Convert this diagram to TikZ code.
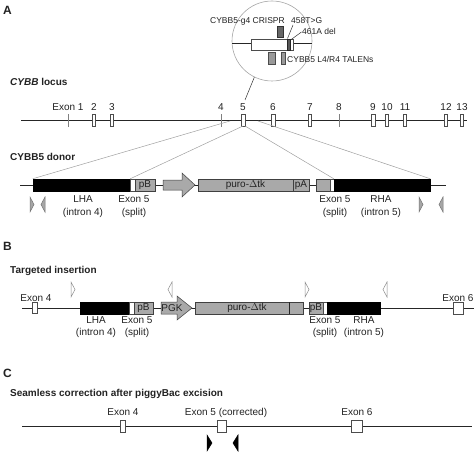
\documentclass[tikz,border=0pt]{standalone}
\usepackage{fontspec}
\setmainfont{Liberation Sans}
\definecolor{boxg}{HTML}{A9A9A9}
\definecolor{txt}{HTML}{222222}
\definecolor{zoomc}{HTML}{A0A0A0}
\tikzset{
  lbl/.style={font=\fontsize{10}{11}\selectfont, text=txt, inner sep=0pt, anchor=base},
  sml/.style={font=\fontsize{8.5}{10}\selectfont, text=txt, inner sep=0pt, anchor=base},
  head/.style={font=\bfseries\fontsize{10}{11}\selectfont, text=txt, inner sep=0pt, anchor=base west},
  panel/.style={font=\bfseries\fontsize{12}{13}\selectfont, text=txt, inner sep=0pt, anchor=base west},
  bb/.style={line width=1pt, draw=black!85},
  zl/.style={draw=zoomc, line width=0.5pt},
  blk/.style={rectangle, fill=black, draw=black, line width=0.5pt, inner sep=0pt},
  gbx/.style={rectangle, fill=boxg, draw=black!75, line width=0.5pt, inner sep=0pt, font=\fontsize{10}{11}\selectfont, text=txt},
  wbx/.style={rectangle, fill=white, draw=black!70, line width=0.5pt, inner sep=0pt},
  tick/.style={rectangle, fill=black!45, draw=black!50, line width=0.3pt, inner sep=0pt, minimum width=0.6, minimum height=12},
  gtri/.style={fill=black!35, draw=black!55, line width=0.5pt},
  otri/.style={fill=white, draw=black!45, line width=0.5pt},
  btri/.style={fill=black, draw=black, line width=0.5pt},
  garrow/.style={fill=boxg, draw=black!75, line width=0.5pt}
}
\begin{document}
\begin{tikzpicture}[x=1pt,y=-1pt]
\useasboundingbox (0,0) rectangle (474,452);

% ================= Panel A =================
\node[panel] (labA) at (3,15) {A};

% magnifier circle
\node[circle, draw=black!35, line width=0.6pt, minimum size=80, inner sep=0pt] (mag) at (272,41) {};
\coordinate (mL) at (232,44);
\coordinate (mR) at (312,44);
\draw[bb] (mL) -- (mR);
\node[wbx, minimum width=42, minimum height=11] (ex5z) at (272,44.5) {};
\node[rectangle, fill=black!65, draw=black!85, line width=0.4pt, minimum width=3, minimum height=11, inner sep=0pt] (mut) at (288.5,44.5) {};
\node[rectangle, fill=black!60, draw=black!80, line width=0.5pt, minimum width=6, minimum height=11, inner sep=0pt] (crispr) at (280,31.5) {};
\node[rectangle, fill=black!40, draw=black!70, line width=0.5pt, minimum width=7, minimum height=12, inner sep=0pt] (tal1) at (271.5,58) {};
\node[rectangle, fill=black!40, draw=black!70, line width=0.5pt, minimum width=4, minimum height=12, inner sep=0pt] (tal2) at (283,58) {};
\node[sml, anchor=base east] (lcr) at (285,23.5) {CYBB5-g4 CRISPR};
\node[sml, anchor=base west] (l458) at (291,23.5) {458T>G};
\node[sml, anchor=base west] (l461) at (302,35) {461A del};
\node[sml, anchor=base west] (ltal) at (287,62.5) {CYBB5 L4/R4 TALENs};
\coordinate (p458) at (287.5,38.5);
\coordinate (p461) at (290.5,40);
\draw[black!80, line width=0.5pt] (293,25) -- (p458);
\draw[black!80, line width=0.5pt] (301.5,32) -- (p461);

% locus
\node[head] (hloc) at (10,85.5) {\textit{CYBB} locus};
\coordinate (locL) at (21,120);
\coordinate (locR) at (467,120);
\draw[bb] (locL) -- (locR);
\node[tick] (e1) at (68,120) {};
\node[wbx, minimum width=3, minimum height=12] (e2) at (94,120) {};
\node[wbx, minimum width=3, minimum height=12] (e3) at (112,120) {};
\node[tick] (e4) at (221,120) {};
\node[wbx, minimum width=3.5, minimum height=12] (e5) at (243,120) {};
\node[wbx, minimum width=3.5, minimum height=12] (e6) at (273,120) {};
\node[wbx, minimum width=3, minimum height=12] (e7) at (310,120) {};
\node[tick] (e8) at (339,120) {};
\node[wbx, minimum width=3.5, minimum height=12] (e9) at (373,120) {};
\node[wbx, minimum width=3, minimum height=12] (e10) at (387,120) {};
\node[wbx, minimum width=3, minimum height=12] (e11) at (405,120) {};
\node[wbx, minimum width=3, minimum height=12] (e12) at (446,120) {};
\node[wbx, minimum width=3, minimum height=12] (e13) at (462,120) {};
\node[lbl] (t1) at (68,110.5) {Exon 1};
\node[lbl] (t2) at (94,110.5) {2};
\node[lbl] (t3) at (112,110.5) {3};
\node[lbl] (t4) at (221,110.5) {4};
\node[lbl] (t5) at (243,110.5) {5};
\node[lbl] (t6) at (273,110.5) {6};
\node[lbl] (t7) at (310,110.5) {7};
\node[lbl] (t8) at (339,110.5) {8};
\node[lbl] (t9) at (373,110.5) {9};
\node[lbl] (t10) at (387,110.5) {10};
\node[lbl] (t11) at (405,110.5) {11};
\node[lbl] (t12) at (446,110.5) {12};
\node[lbl] (t13) at (462,110.5) {13};

% connector circle -> exon 5
\coordinate (c5top) at (245,100);
\draw[black!80, line width=0.5pt] (mag.244) -- (c5top);

% donor
\node[head] (hdon) at (10,160.5) {CYBB5 donor};
\coordinate (dL) at (20,185);
\coordinate (dR) at (446,185);
\draw[bb] (dL) -- (dR);
\node[blk, minimum width=97, minimum height=12] (dLHA) at (81.5,185) {};
\node[wbx, minimum width=5, minimum height=12] (dX5a) at (132.5,185) {};
\node[gbx, minimum width=20, minimum height=12] (dpB) at (145,185) {pB};
\draw[garrow] (163,180) -- (182,180) -- (182,173) -- (195,185) -- (182,197) -- (182,190) -- (163,190) -- cycle;
\node[gbx, minimum width=95, minimum height=12] (dpuro) at (245.5,185) {puro-$\Delta$tk};
\node[gbx, minimum width=16, minimum height=12] (dpA) at (301,185) {pA};
\node[gbx, minimum width=14, minimum height=12] (dpB2) at (323,185) {};
\node[wbx, minimum width=4, minimum height=12] (dX5b) at (332,185) {};
\node[blk, minimum width=96, minimum height=12] (dRHA) at (382,185) {};

% zoom lines
\coordinate (z1) at (230,121);
\coordinate (z2) at (243,126);
\coordinate (z3) at (245,126);
\coordinate (z4) at (258,121);
\draw[zl] (z1) -- (dLHA.north west);
\draw[zl] (z2) -- (dLHA.north east);
\draw[zl] (z3) -- (dRHA.north west);
\draw[zl] (z4) -- (dRHA.north east);

% donor labels
\node[lbl] (dl1) at (83,202.5) {LHA};
\node[lbl] (dl2) at (83,215.5) {(intron 4)};
\node[lbl] (dl3) at (134,202.5) {Exon 5};
\node[lbl] (dl4) at (134,215.5) {(split)};
\node[lbl] (dl5) at (335,202.5) {Exon 5};
\node[lbl] (dl6) at (335,215.5) {(split)};
\node[lbl] (dl7) at (381,202.5) {RHA};
\node[lbl] (dl8) at (381,215.5) {(intron 5)};

% primers A
\draw[gtri] (30,197) -- (34,204.5) -- (30,212) -- cycle;
\draw[gtri] (45,197) -- (41,204.5) -- (45,212) -- cycle;
\draw[gtri] (419,197) -- (423,204.5) -- (419,212) -- cycle;
\draw[gtri] (443,197) -- (439,204.5) -- (443,212) -- cycle;

% ================= Panel B =================
\node[panel] (labB) at (3,250) {B};
\node[head] (htar) at (10,273.5) {Targeted insertion};
\coordinate (bL) at (22,308);
\coordinate (bR) at (474,308);
\draw[bb] (bL) -- (bR);
\node[wbx, minimum width=5, minimum height=11] (bE4) at (34.5,308) {};
\node[blk, minimum width=49, minimum height=12] (bLHA) at (104.5,308) {};
\node[wbx, minimum width=5, minimum height=12] (bX5a) at (131.5,308) {};
\node[gbx, minimum width=19, minimum height=12] (bpB) at (143.5,308) {pB};
\draw[garrow] (161,302) -- (177,302) -- (177,296) -- (192,308) -- (177,320) -- (177,314) -- (161,314) -- cycle;
\node[lbl, anchor=center] (bPGK) at (172,308) {PGK};
\node[gbx, minimum width=108, minimum height=12] (bpuro) at (249,308) {};
\node[lbl, anchor=center] (bpurot) at (247,308) {puro-$\Delta$tk};
\draw[black!85, line width=0.8pt] (289,302) -- (289,314);
\node[gbx, minimum width=14, minimum height=12] (bpB2) at (316,308) {pB};
\node[wbx, minimum width=4, minimum height=12] (bX5b) at (325,308) {};
\node[blk, minimum width=53, minimum height=12] (bRHA) at (353.5,308) {};
\node[wbx, minimum width=10, minimum height=12] (bE6) at (458,308) {};

\node[lbl] (bt4) at (36,301.5) {Exon 4};
\node[lbl] (bt6) at (458,301.5) {Exon 6};
\node[lbl] (bl1) at (96,323) {LHA};
\node[lbl] (bl2) at (96,335.5) {(intron 4)};
\node[lbl] (bl3) at (137,323) {Exon 5};
\node[lbl] (bl4) at (137,335.5) {(split)};
\node[lbl] (bl5) at (325,323) {Exon 5};
\node[lbl] (bl6) at (325,335.5) {(split)};
\node[lbl] (bl7) at (364,323) {RHA};
\node[lbl] (bl8) at (364,335.5) {(intron 5)};

% primers B
\draw[otri] (71,282) -- (75,289.5) -- (71,297) -- cycle;
\draw[otri] (172,282) -- (168,289.5) -- (172,297) -- cycle;
\draw[otri] (305,282) -- (309,289.5) -- (305,297) -- cycle;
\draw[otri] (387,282) -- (383,289.5) -- (387,297) -- cycle;

% ================= Panel C =================
\node[panel] (labC) at (3,377) {C};
\node[head] (hsea) at (10,396.5) {Seamless correction after piggyBac excision};
\coordinate (cL) at (22,426);
\coordinate (cR) at (472,426);
\draw[bb] (cL) -- (cR);
\node[wbx, minimum width=5, minimum height=12] (cE4) at (122.5,426) {};
\node[wbx, minimum width=9, minimum height=12] (cE5) at (221.5,426) {};
\node[wbx, minimum width=11, minimum height=12] (cE6) at (356.5,426) {};
\node[lbl] (ct4) at (123,415.5) {Exon 4};
\node[lbl] (ct5) at (226,415.5) {Exon 5 (corrected)};
\node[lbl] (ct6) at (357,415.5) {Exon 6};
\draw[btri] (207,435) -- (212,443) -- (207,451) -- cycle;
\draw[btri] (238,435) -- (233,443) -- (238,451) -- cycle;

\end{tikzpicture}
\end{document}
